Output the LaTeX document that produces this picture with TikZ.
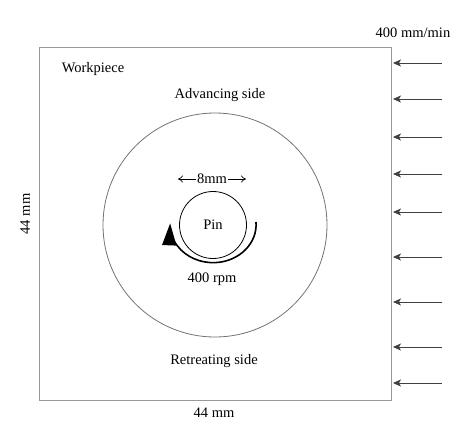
\documentclass[tikz,border=0pt]{standalone}
\usepackage{fontspec}
\setmainfont{Liberation Serif}
\usepackage{tikz}
\usetikzlibrary{
  arrows.meta,
  calc,
  positioning}

\begin{document}
\begin{tikzpicture}[x=1pt,y=-1pt,
    every node/.style={font=\fontsize{14.5}{17}\selectfont},
    feed/.style={-{Stealth[length=8pt,width=7pt,inset=2pt]},line width=0.9pt,black!75},
    spin/.style={-{Triangle[length=22pt,width=14pt]},line width=1.6pt}]
            \useasboundingbox (0,0) rectangle (474,437);
            \node[draw=black!40,line width=1pt,minimum width=352pt,minimum height=353pt,inner sep=0pt] (plate) at (215,223.5) {};
            \node[circle,draw=black!55,line width=0.8pt,minimum size=224pt,inner sep=0pt] (zone) at (215,225) {};
            \node[circle,draw,line width=0.8pt,minimum size=67pt,inner sep=0pt] (pin) at (213,225) {Pin};

            \node at (93,69) (work) {Workpiece};
            \node at (220,95) (adv) {Advancing side};
            \node at (214,361) (ret) {Retreating side};
            \node at (214,413) (bot) {44 mm};
            \node at (25,214) [rotate=90] (side) {44 mm};
            \node at (413,33) (rate) {400 mm/min};
            \node at (212,279) (rpm) {400 rpm};

            % tool diameter
            \node at (212,179) [inner sep=1pt] (dia) {8mm};
            \draw[-{To[length=5pt,width=7pt]},line width=0.7pt] (dia.east) -- ++(18,0);
            \draw[-{To[length=5pt,width=7pt]},line width=0.7pt] (dia.west) -- ++(-18,0);

            % rotation
            \draw[spin] (pin.center) ++(43,-3) arc[start angle=-4,end angle=182,x radius=43,y radius=38];

            % feed arrows
            \foreach \y [count=\i] in {63,99,137,174,212,257,302,347,383}
              {
                \coordinate (s\i) at (442,\y);
                \draw[feed] (s\i) -- ($(s\i -| plate.east)+(1.5,0)$);
              }
        \end{tikzpicture}
\end{document}
